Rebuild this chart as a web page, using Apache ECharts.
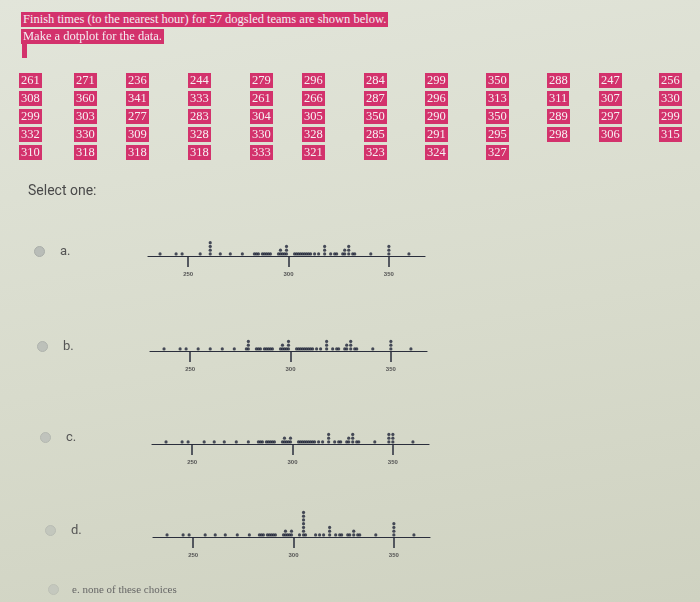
<!DOCTYPE html>
<html>
<head>
<meta charset="utf-8">
<script src="https://cdn.jsdelivr.net/npm/echarts@6.0.0/dist/echarts.min.js"></script>
<style>
  html, body { margin: 0; padding: 0; }
  body {
    width: 700px; height: 602px; position: relative; overflow: hidden;
    background: linear-gradient(170deg, #e2e5da 0%, #d8dbcc 55%, #cfd2c1 100%);
    font-family: "Liberation Serif", serif;
  }
  #chart { position: absolute; left: 0; top: 0; width: 700px; height: 602px; }
  .hl { position: absolute; background: #d3326c; color: #f4eef2; font-size: 12.5px; line-height: 15px; padding: 0 2px; white-space: nowrap; }
  .cell { position: absolute; background: #d3326c; color: #f6f0f3; font-size: 12.5px; line-height: 15px; padding: 0 2px; }
  .sans { position: absolute; font-family: "Roboto", sans-serif; color: #4a4a4a; }
  .radio { position: absolute; width: 9px; height: 9px; border-radius: 50%; background: #b9bdb8; border: 1px solid #a9ada8; }
</style>
</head>
<body>
<div id="chart"></div>
<div id="overlay"></div>
<script>
// table columns as printed in the question
var tableCols = [
  [261, 308, 299, 332, 310],
  [271, 360, 303, 330, 318],
  [236, 341, 277, 309, 318],
  [244, 333, 283, 328, 318],
  [279, 261, 304, 330, 333],
  [296, 266, 305, 328, 321],
  [284, 287, 350, 285, 323],
  [299, 296, 290, 291, 324],
  [350, 313, 350, 295, 327],
  [288, 311, 289, 298],
  [247, 307, 297, 306],
  [256, 330, 299, 315]
];

// dot plot values for each answer choice
var optA = [236, 244, 247, 256, 261, 261, 261, 261, 266, 271, 277, 283, 284, 285, 287, 288, 289,
  290, 291, 295, 296, 296, 297, 298, 299, 299, 299, 303, 304, 305, 306, 307, 308, 309, 310,
  311, 313, 315, 318, 318, 318, 321, 323, 324, 327, 328, 328, 330, 330, 330, 332, 333, 341,
  350, 350, 350, 360];
var optB = [237, 245, 248, 254, 260, 266, 272, 278, 279, 279, 279, 283, 284, 285, 287, 288, 289,
  290, 291, 295, 296, 296, 297, 298, 299, 299, 299, 303, 304, 305, 306, 307, 308, 309, 310,
  311, 313, 315, 318, 318, 318, 321, 323, 324, 327, 328, 328, 330, 330, 330, 332, 333, 341,
  350, 350, 350, 360];
var optC = [237, 245, 248, 256, 261, 266, 272, 278, 283, 284, 285, 287, 288, 289,
  290, 291, 295, 296, 296, 297, 298, 299, 299, 303, 304, 305, 306, 307, 308, 309, 310,
  311, 313, 315, 318, 318, 318, 321, 323, 324, 327, 328, 328, 330, 330, 330, 332, 333, 341,
  348, 348, 348, 350, 350, 350, 360];
var optD = [237, 245, 248, 256, 261, 266, 272, 278, 283, 284, 285, 287, 288, 289,
  290, 291, 295, 296, 296, 297, 298, 299, 299, 303, 305, 305, 305, 305, 305, 305, 305, 306,
  311, 313, 315, 318, 318, 318, 321, 323, 324, 327, 328, 330, 330, 332, 333, 341,
  350, 350, 350, 350, 360];
var options = [optA, optB, optC, optD];
var tickValues = [250, 300, 350];

var axisTops = [226, 321, 414, 507];
var axisLefts = [148, 150, 152, 153];

// ---- html text parts ----
var ov = document.getElementById('overlay');
function add(cls, text, css) {
  var d = document.createElement('div');
  d.className = cls;
  d.textContent = text;
  Object.keys(css).forEach(function (k) { d.style[k] = css[k]; });
  ov.appendChild(d);
  return d;
}
add('hl', 'Finish times (to the nearest hour) for 57 dogsled teams are shown below.', { left: '21px', top: '12px' });
add('hl', 'Make a dotplot for the data.', { left: '21px', top: '29px' });
add('hl', '', { left: '22px', top: '44px', width: '5px', height: '14px', padding: '0' });

var colX = [19, 74, 126, 188, 250, 302, 364, 425, 486, 547, 599, 659];
var rowY = [73, 91, 109, 127, 145];
tableCols.forEach(function (col, c) {
  col.forEach(function (v, r) {
    add('cell', String(v), { left: colX[c] + 'px', top: rowY[r] + 'px' });
  });
});

add('sans', 'Select one:', { left: '28px', top: '182px', fontSize: '14px' });
var radioPos = [[34, 246], [37, 341], [40, 432], [45, 525], [48, 584]];
var letters = ['a.', 'b.', 'c.', 'd.'];
radioPos.forEach(function (p, i) {
  add('radio', '', { left: p[0] + 'px', top: p[1] + 'px', opacity: String(1 - i * 0.12) });
  if (i < 4) add('sans', letters[i], { left: (p[0] + 26) + 'px', top: (p[1] - 3) + 'px', fontSize: '13px', color: '#555' });
});
add('sans', 'e. none of these choices', { left: '72px', top: '583px', fontSize: '11px', color: '#666', fontFamily: '"Liberation Serif", serif' });

// ---- dot plots ----
function stackPoints(vals) {
  var counts = {};
  var pts = [];
  vals.forEach(function (v) {
    counts[v] = (counts[v] || 0) + 1;
    pts.push([v, counts[v] - 0.45]);
  });
  return pts;
}

var grids = [], xAxes = [], yAxes = [], series = [];
options.forEach(function (vals, i) {
  grids.push({ left: axisLefts[i], width: 277, top: axisTops[i], height: 30 });
  xAxes.push({
    gridIndex: i, type: 'value', min: 230, max: 368,
    splitLine: { show: false },
    axisLine: { lineStyle: { color: '#2a2e3c', width: 1.2 } },
    axisTick: { customValues: tickValues, length: 11, lineStyle: { color: '#2a2e3c', width: 1.5 } },
    axisLabel: { customValues: tickValues, fontSize: 6, color: '#555', fontWeight: 'bold', margin: 15 },
    minorTick: { show: false }
  });
  yAxes.push({ gridIndex: i, type: 'value', min: 0, max: 8, show: false });
  series.push({
    type: 'scatter', xAxisIndex: i, yAxisIndex: i,
    data: stackPoints(vals), symbolSize: 3.2,
    itemStyle: { color: '#1f2438' }, silent: true
  });
  // faint minor dashes on the axis, as in the printed figure
  series.push({
    type: 'scatter', xAxisIndex: i, yAxisIndex: i,
    data: [], symbolSize: 0
  });
});

var chart = echarts.init(document.getElementById('chart'), null, { renderer: 'canvas' });
chart.setOption({
  animation: false,
  grid: grids, xAxis: xAxes, yAxis: yAxes, series: series
});
</script>
</body>
</html>
